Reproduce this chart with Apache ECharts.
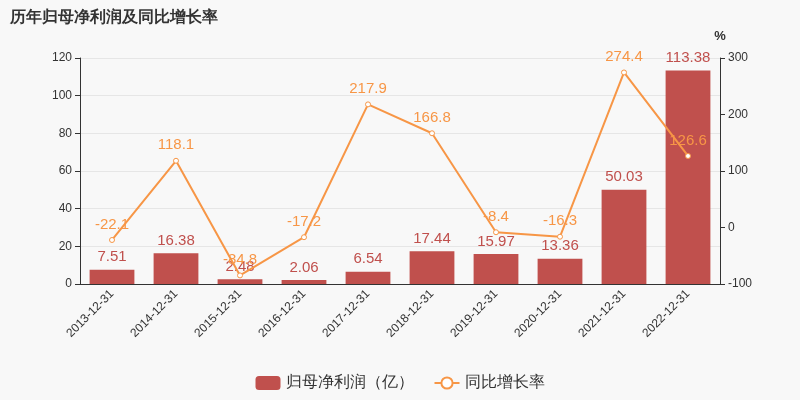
<!DOCTYPE html>
<html><head><meta charset="utf-8">
<script src="https://cdn.jsdelivr.net/npm/echarts@6/dist/echarts.min.js"></script>
<style>html,body{margin:0;padding:0;background:#f8f8f8}#c{width:800px;height:400px}</style>
</head><body><div id="c"></div>
<script>
const categories=['2013-12-31','2014-12-31','2015-12-31','2016-12-31','2017-12-31','2018-12-31','2019-12-31','2020-12-31','2021-12-31','2022-12-31'];
const profit=[7.51,16.38,2.48,2.06,6.54,17.44,15.97,13.36,50.03,113.38];
const growth=[-22.1,118.1,-84.8,-17.2,217.9,166.8,-8.4,-16.3,274.4,126.6];
const chart=echarts.init(document.getElementById('c'));
chart.setOption({
  backgroundColor:'#f8f8f8',
  animation:false,
  title:{text:'历年归母净利润及同比增长率',left:5,top:5,textStyle:{fontSize:16,fontWeight:'bold',color:'#333'}},
  grid:{left:80,right:80,top:58,bottom:116},
  legend:{bottom:4,itemGap:20,textStyle:{fontSize:16,color:'#333'},data:['归母净利润（亿）','同比增长率']},
  xAxis:{type:'category',data:categories,axisLabel:{rotate:45,fontSize:12,color:'#333',interval:0},axisLine:{lineStyle:{color:'#333'}},axisTick:{alignWithLabel:true}},
  yAxis:[
    {type:'value',min:0,max:120,interval:20,axisLabel:{color:'#333',fontSize:12},splitLine:{lineStyle:{color:'#e6e6e6'}},axisLine:{show:true,lineStyle:{color:'#333'}},axisTick:{show:true}},
    {type:'value',min:-100,max:300,interval:100,name:'%',nameTextStyle:{color:'#333',fontSize:13,fontWeight:'bold'},axisLabel:{color:'#333',fontSize:12},splitLine:{show:false},axisLine:{show:true,lineStyle:{color:'#333'}},axisTick:{show:true}}
  ],
  series:[
    {name:'归母净利润（亿）',type:'bar',data:profit,barWidth:'70%',itemStyle:{color:'#c0504d'},label:{show:true,position:'top',color:'#c0504d',fontSize:15}},
    {name:'同比增长率',type:'line',yAxisIndex:1,data:growth,symbol:'circle',symbolSize:5,itemStyle:{color:'#fff',borderColor:'#f79646',borderWidth:1},lineStyle:{color:'#f79646',width:2},label:{show:true,position:'top',color:'#f79646',fontSize:15}}
  ]
});
</script></body></html>
